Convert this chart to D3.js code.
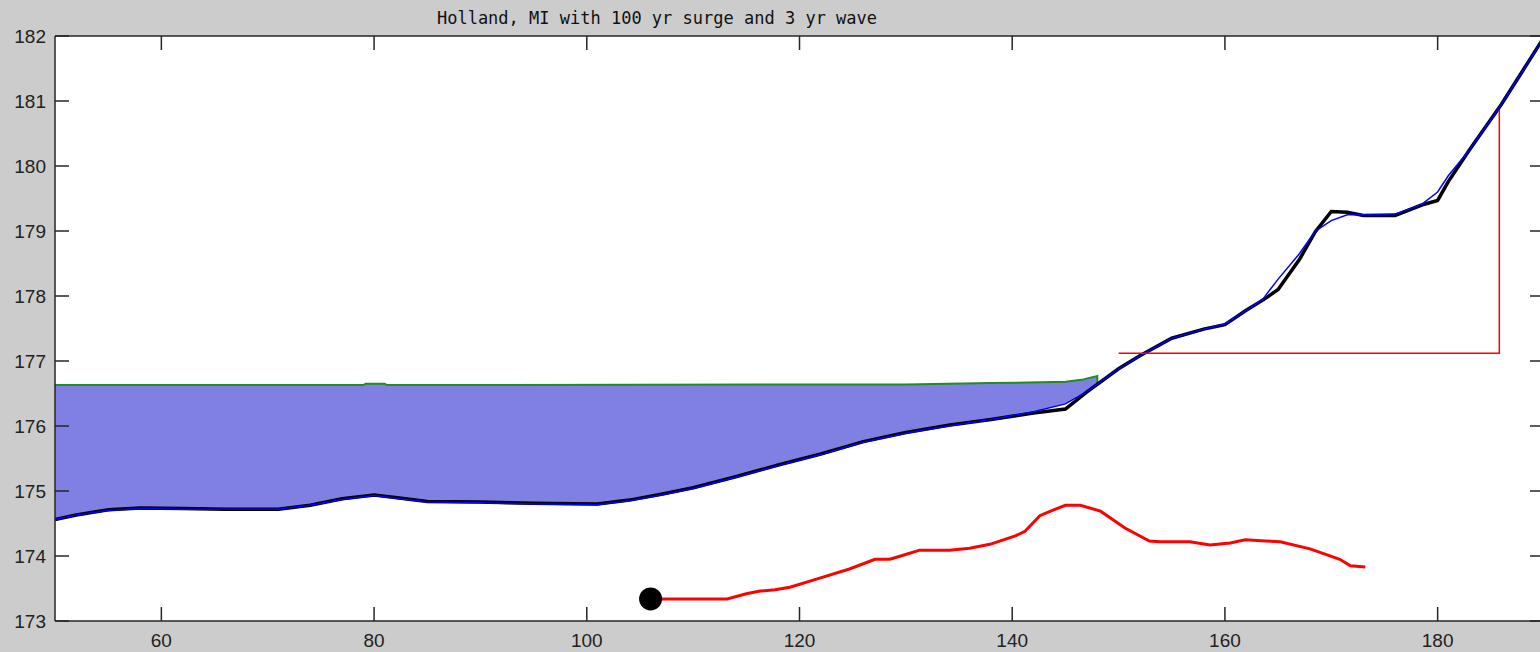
<!DOCTYPE html>
<html>
<head>
<meta charset="utf-8">
<script src="https://cdn.jsdelivr.net/npm/d3@7"></script>
<style>
  body { margin: 0; background: #cccccc; }
  svg { display: block; }
</style>
</head>
<body>
<svg id="chart" width="1540" height="652"></svg>
<script>
const title = "Holland, MI with 100 yr surge and 3 yr wave";

// ground profile (black = measured, blue = smoothed)
const groundX = [50, 52, 55, 58, 62, 66, 71, 74, 77, 80, 82, 85, 90, 95, 101, 104, 107, 110, 114, 118, 122, 126, 130, 134, 138, 142, 145, 147, 150, 152, 155, 158, 160, 162, 163.6, 165, 167, 168.5, 170, 171.5, 173, 176, 178.5, 180, 181, 183, 186, 190];
const groundY = [174.56, 174.63, 174.71, 174.74, 174.73, 174.72, 174.72, 174.78, 174.88, 174.94, 174.9, 174.84, 174.83, 174.81, 174.8, 174.86, 174.95, 175.05, 175.22, 175.4, 175.57, 175.76, 175.9, 176.01, 176.1, 176.2, 176.26, 176.52, 176.88, 177.08, 177.35, 177.49, 177.56, 177.78, 177.94, 178.1, 178.56, 178.99, 179.3, 179.29, 179.24, 179.24, 179.4, 179.47, 179.76, 180.25, 180.95, 181.98];
const smoothY = [174.56, 174.63, 174.7, 174.73, 174.72, 174.72, 174.72, 174.78, 174.87, 174.93, 174.89, 174.83, 174.82, 174.8, 174.79, 174.85, 174.94, 175.04, 175.21, 175.39, 175.56, 175.75, 175.89, 176.0, 176.1, 176.22, 176.34, 176.53, 176.88, 177.08, 177.35, 177.49, 177.57, 177.78, 177.96, 178.26, 178.65, 179.0, 179.16, 179.25, 179.25, 179.26, 179.41, 179.6, 179.85, 180.25, 180.95, 181.98];

// still water level (surge)
const waterX = [50, 79, 79.2, 81, 81.2, 130, 138, 145, 146.5, 148];
const waterY = [176.63, 176.63, 176.65, 176.65, 176.63, 176.64, 176.66, 176.68, 176.71, 176.77];

// red wave curve
const runX = [106, 113.2, 115, 116.3, 117.7, 119.1, 121.9, 124.7, 127.1, 128.5, 129.9, 131.3, 134.1, 136, 137.9, 140.3, 141.2, 142.6, 143.6, 145, 146.4, 148.3, 150.6, 152.9, 153.9, 156.7, 158.6, 160.5, 161.9, 163.8, 165.2, 168, 170.8, 171.8, 173.2];
const runY = [173.34, 173.34, 173.42, 173.46, 173.48, 173.52, 173.66, 173.8, 173.95, 173.95, 174.02, 174.09, 174.09, 174.12, 174.18, 174.31, 174.38, 174.62, 174.69, 174.78, 174.78, 174.69, 174.43, 174.23, 174.22, 174.22, 174.17, 174.2, 174.25, 174.23, 174.22, 174.11, 173.95, 173.85, 173.83];

// runup bracket
const bracketX = [150, 185.8, 185.8];
const bracketY = [177.12, 177.12, 180.86];

const xTicks = [60, 80, 100, 120, 140, 160, 180];
const yTicks = [173, 174, 175, 176, 177, 178, 179, 180, 181, 182];

const svg = d3.select("#chart");
const plotL = 55, plotR = 1544, plotT = 36, plotB = 621;

const x = d3.scaleLinear().domain([50, 190]).range([plotL, plotR]);
const y = d3.scaleLinear().domain([173, 182]).range([plotB, plotT]);

svg.append("rect")
  .attr("width", 1540).attr("height", 652)
  .attr("fill", "#cccccc");

svg.append("defs").append("clipPath").attr("id", "clip")
  .append("rect")
  .attr("x", plotL).attr("y", plotT)
  .attr("width", plotR - plotL).attr("height", plotB - plotT);

svg.append("rect")
  .attr("x", plotL).attr("y", plotT)
  .attr("width", plotR - plotL).attr("height", plotB - plotT)
  .attr("fill", "#ffffff");

const plot = svg.append("g").attr("clip-path", "url(#clip)");

const line = d3.line().x((d) => x(d[0])).y((d) => y(d[1]));

// water polygon: surface, then smoothed ground back to the start
const groundAt = d3.scaleLinear().domain(groundX).range(smoothY);
const waterEnd = waterX[waterX.length - 1];
const water = waterX.map((d, i) => [d, waterY[i]]);
const shore = [waterEnd, groundAt(waterEnd)];
const bed = groundX
  .map((d, i) => [d, smoothY[i]])
  .filter((d) => d[0] < waterEnd)
  .reverse();

plot.append("path")
  .attr("d", line([...water, shore, ...bed]) + "Z")
  .attr("fill", "#8080e2")
  .attr("stroke", "none");

plot.append("path")
  .attr("d", line([...water, shore]))
  .attr("fill", "none")
  .attr("stroke", "#228b22")
  .attr("stroke-width", 2);

plot.append("path")
  .attr("d", line(groundX.map((d, i) => [d, groundY[i]])))
  .attr("fill", "none")
  .attr("stroke", "#000000")
  .attr("stroke-width", 3.5);

plot.append("path")
  .attr("d", line(groundX.map((d, i) => [d, smoothY[i]])))
  .attr("fill", "none")
  .attr("stroke", "#0000ff")
  .attr("stroke-width", 1.5);

plot.append("path")
  .attr("d", line(bracketX.map((d, i) => [d, bracketY[i]])))
  .attr("fill", "none")
  .attr("stroke", "#ff0000")
  .attr("stroke-width", 1.5);

plot.append("path")
  .attr("d", line(runX.map((d, i) => [d, runY[i]])))
  .attr("fill", "none")
  .attr("stroke", "#ff0000")
  .attr("stroke-width", 3);

plot.append("circle")
  .attr("cx", x(runX[0]))
  .attr("cy", y(runY[0]))
  .attr("r", 11.5)
  .attr("fill", "#000000");

// frame and inward ticks
const axisColor = "#262626";
const frame = svg.append("g").attr("stroke", axisColor).attr("stroke-width", 1.5);
frame.append("line").attr("x1", plotL).attr("x2", plotR).attr("y1", plotT).attr("y2", plotT);
frame.append("line").attr("x1", plotL).attr("x2", plotR).attr("y1", plotB).attr("y2", plotB);
frame.append("line").attr("x1", plotL).attr("x2", plotL).attr("y1", plotT).attr("y2", plotB);
frame.append("line").attr("x1", plotR).attr("x2", plotR).attr("y1", plotT).attr("y2", plotB);

const tickLen = 14;
xTicks.forEach((t) => {
  frame.append("line").attr("x1", x(t)).attr("x2", x(t)).attr("y1", plotB).attr("y2", plotB - tickLen);
  frame.append("line").attr("x1", x(t)).attr("x2", x(t)).attr("y1", plotT).attr("y2", plotT + tickLen);
});
yTicks.forEach((t) => {
  frame.append("line").attr("x1", plotL).attr("x2", plotL + tickLen).attr("y1", y(t)).attr("y2", y(t));
  frame.append("line").attr("x1", plotR).attr("x2", plotR - tickLen).attr("y1", y(t)).attr("y2", y(t));
});

const labels = svg.append("g")
  .style("font-family", "'Liberation Sans', Arial, sans-serif")
  .style("font-size", "19px")
  .attr("fill", "#222222");

labels.selectAll(".xlab")
  .data(xTicks)
  .enter()
  .append("text")
  .attr("x", (d) => x(d))
  .attr("y", 647)
  .attr("text-anchor", "middle")
  .text((d) => d);

labels.selectAll(".ylab")
  .data(yTicks)
  .enter()
  .append("text")
  .attr("x", 46)
  .attr("y", (d) => y(d) + 7)
  .attr("text-anchor", "end")
  .text((d) => d);

svg.append("text")
  .attr("x", 657)
  .attr("y", 24)
  .attr("text-anchor", "middle")
  .style("font-family", "'DejaVu Sans Mono', monospace")
  .style("font-size", "17px")
  .attr("fill", "#111111")
  .text(title);
</script>
</body>
</html>
